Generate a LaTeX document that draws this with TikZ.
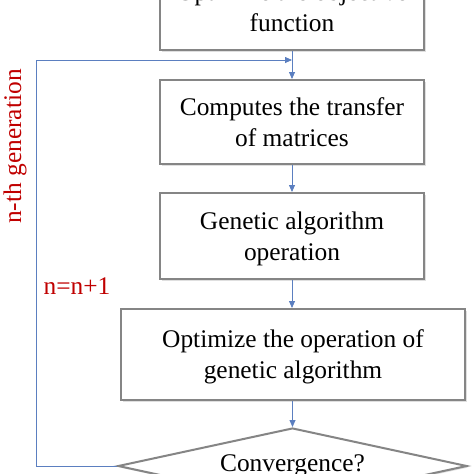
\documentclass[tikz,border=0pt]{standalone}
\usepackage{fontspec}
\setmainfont{Liberation Serif}
\usetikzlibrary{arrows.meta,shapes.geometric,shadows}
\definecolor{linkblue}{HTML}{5B7FC0}
\definecolor{boxgray}{HTML}{858585}
\definecolor{labred}{HTML}{C00000}
\tikzset{
  stepbox/.style={rectangle, draw=boxgray, line width=2pt, fill=white,
    align=center, inner sep=0pt, text height=48pt, text depth=0pt,
    font=\fontsize{25.4}{31}\selectfont,
    drop shadow={opacity=0.25, shadow xshift=1.5pt, shadow yshift=-1.5pt}},
  decision/.style={diamond, draw=boxgray, line width=2pt, fill=white,
    inner sep=0pt, aspect=4.6, font=\fontsize{25.4}{31}\selectfont,
    drop shadow={opacity=0.25, shadow xshift=1.5pt, shadow yshift=-1.5pt}},
  arr/.style={draw=linkblue, line width=0.8pt, -{Triangle[length=7pt,width=6pt]}},
  lab/.style={text=labred, font=\fontsize{25.4}{31}\selectfont, inner sep=0pt}
}
\begin{document}
\begin{tikzpicture}[x=1pt,y=-1pt]
\useasboundingbox (0,0) rectangle (474,474);
\clip (0,0) rectangle (474,474);
\fill[white] (0,0) rectangle (474,474);
\node[stepbox, minimum width=264pt, minimum height=86pt] (b1) at (292,7) {Optimize the objective\\function};
\node[stepbox, minimum width=264pt, minimum height=84pt] (b2) at (292,122) {Computes the transfer\\of matrices};
\node[stepbox, minimum width=264pt, minimum height=86pt] (b3) at (292,236) {Genetic algorithm\\operation};
\node[stepbox, minimum width=344pt, minimum height=91pt] (b4) at (293,354.5) {Optimize the operation of\\genetic algorithm};
\node[decision, minimum width=349pt, minimum height=76pt] (d) at (292.5,466) {Convergence?};
\coordinate (in) at (292,60);
\coordinate (c1) at (36,466);
\draw[arr] (b1.south) -- (b2.north);
\draw[arr] (b2.south) -- (b3.north);
\draw[arr] (b3.south) -- (b4.north -| b3.south);
\draw[arr] (b4.south -| d.north) -- (d.north);
\draw[arr] (d.west) -- (c1) |- (in);
\node[lab, rotate=90] (gen) at (15,146.5) {n-th generation};
\node[lab] (inc) at (77,286) {n=n+1};
\end{tikzpicture}
\end{document}
